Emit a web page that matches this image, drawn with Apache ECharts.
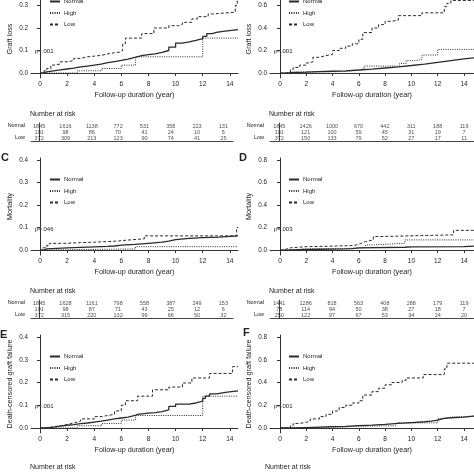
<!DOCTYPE html>
<html><head><meta charset="utf-8">
<script src="https://cdn.jsdelivr.net/npm/echarts@6/dist/echarts.min.js"></script>
<style>html,body{margin:0;padding:0;background:#fff}#c{width:474px;height:474px}</style>
</head><body><div id="c"></div>
<script>
// ---------- DATA ----------
const groups = ['Normal', 'High', 'Low'];
const xTicks = [0, 2, 4, 6, 8, 10, 12, 14];
const riskTimes = [0, 2, 4, 6, 8, 10, 12, 14];
const yTicksSmall = [0, 0.1, 0.2, 0.3, 0.4];
const yTicksLarge = [0, 0.2, 0.4, 0.6, 0.8];

// A: graft loss (left)
const aNormal = [[0,0],[0.2,0.005],[0.5,0.01],[1,0.014],[1.5,0.018],[2,0.022],[2.5,0.027],[3,0.031],[3.5,0.035],[4,0.04],[4.5,0.046],[5,0.051],[5.5,0.056],[6,0.062],[6.5,0.07],[7,0.077],[7.5,0.082],[8,0.085],[8.5,0.092],[9,0.1],[9.5,0.115],[10,0.133],[10.5,0.138],[11,0.145],[11.5,0.153],[12,0.163],[12.3,0.175],[12.7,0.18],[13,0.185],[13.5,0.193],[14.6,0.193]];
const aHigh = [[0,0],[2.75,0.01],[4.55,0.02],[6.0,0.035],[7.05,0.072],[12.0,0.155],[14.6,0.155]];
const aLow = [[0,0],[0.3,0.01],[0.5,0.02],[0.8,0.035],[1,0.04],[1.5,0.05],[2,0.055],[2.5,0.065],[3,0.072],[3.5,0.075],[4,0.078],[4.5,0.085],[5,0.09],[5.5,0.093],[5.9,0.1],[6.1,0.13],[6.3,0.155],[7.5,0.175],[8.4,0.2],[9.5,0.21],[10.2,0.215],[10.5,0.225],[11.2,0.24],[11.6,0.25],[12.4,0.262],[12.7,0.27],[14.4,0.3],[14.55,0.33],[14.6,0.33]];

// B: graft loss (right)
const bNormal = [[0,0],[0.5,0.005],[1,0.008],[2,0.012],[3,0.016],[4,0.02],[5,0.027],[6,0.035],[7,0.045],[8,0.055],[9,0.067],[10,0.08],[11,0.095],[12,0.11],[13,0.125],[14,0.135],[14.76,0.14]];
const bHigh = [[0,0],[0.3,0.005],[0.6,0.01],[2,0.013],[4.8,0.025],[6,0.04],[6.4,0.062],[9.1,0.085],[9.6,0.11],[10.2,0.12],[10.8,0.16],[12,0.21],[14.76,0.21]];
const bLow = [[0,0],[0.5,0.01],[0.8,0.03],[1,0.05],[1.5,0.07],[2,0.09],[2.2,0.1],[2.5,0.14],[3,0.155],[3.5,0.165],[4,0.2],[4.5,0.22],[5,0.24],[5.5,0.26],[6,0.3],[6.3,0.36],[7,0.4],[7.5,0.43],[8,0.46],[8.5,0.47],[9,0.51],[10.8,0.535],[12.5,0.59],[12.7,0.62],[13,0.645],[14.76,0.645]];

// C: mortality (left)
const cNormal = [[0,0],[0.3,0.005],[0.5,0.01],[2,0.012],[3,0.014],[4,0.016],[5,0.018],[5.5,0.022],[6,0.025],[7,0.03],[8,0.035],[9,0.04],[9.5,0.046],[10,0.052],[11,0.055],[12,0.057],[13.2,0.06],[13.3,0.063],[14.6,0.063]];
const cHigh = [[0,0],[0.3,0.005],[7.05,0.015],[14.6,0.015]];
const cLow = [[0,0],[0.2,0.01],[0.5,0.02],[0.7,0.03],[2,0.033],[3,0.035],[4,0.04],[5.8,0.042],[6,0.05],[7.7,0.063],[14.5,0.1],[14.6,0.1]];

// D: mortality (right)
const dNormal = [[0,0],[0.5,0.005],[2,0.01],[5,0.012],[5.5,0.02],[6,0.025],[9.5,0.028],[10,0.03],[14,0.035],[14.76,0.035]];
const dHigh = [[0,0],[0.5,0.01],[2,0.015],[5.5,0.02],[6.5,0.045],[7,0.06],[9.5,0.09],[14.76,0.09]];
const dLow = [[0,0],[0.3,0.01],[0.5,0.02],[0.8,0.03],[2,0.035],[4,0.04],[5.5,0.045],[5.8,0.06],[6.2,0.075],[6.5,0.09],[7.1,0.12],[7.6,0.135],[13.2,0.175],[14.76,0.175]];

// E: death-censored graft failure (left)
const eNormal = [[0,0],[0.5,0.004],[1,0.008],[1.5,0.012],[2,0.015],[2.5,0.019],[3,0.022],[3.5,0.026],[4,0.03],[4.5,0.035],[5,0.04],[5.5,0.044],[6,0.048],[6.5,0.055],[7,0.06],[7.2,0.065],[8,0.068],[8.5,0.072],[9,0.08],[9.5,0.095],[10,0.105],[11,0.11],[11.5,0.118],[12,0.13],[12.2,0.14],[12.5,0.15],[13,0.158],[13.8,0.163],[14.6,0.163]];
const eHigh = [[0,0],[2.75,0.01],[4.55,0.02],[6.0,0.035],[7.05,0.055],[12,0.14],[14.6,0.14]];
const eLow = [[0,0],[0.5,0.005],[1,0.01],[1.5,0.015],[2,0.022],[2.5,0.03],[3,0.04],[4,0.05],[4.5,0.055],[5,0.06],[5.5,0.075],[6,0.1],[6.3,0.12],[7.2,0.14],[8.3,0.168],[9.5,0.18],[10.5,0.198],[11.2,0.22],[12.5,0.24],[14.2,0.27],[14.6,0.27]];

// F: death-censored graft failure (right)
const fNormal = [[0,0],[1,0.004],[2,0.008],[3,0.012],[4,0.015],[5,0.02],[6,0.025],[7,0.032],[8,0.04],[9,0.048],[10,0.055],[11,0.06],[11.5,0.07],[12,0.085],[12.5,0.09],[13,0.095],[14,0.105],[14.76,0.11]];
const fHigh = [[0,0],[0.8,0.008],[4.7,0.015],[5.8,0.02],[8.8,0.045],[12,0.085],[12.5,0.095],[13,0.1],[14,0.105],[14.76,0.11]];
const fLow = [[0,0],[0.8,0.02],[1,0.04],[1.5,0.05],[2,0.06],[2.3,0.08],[3,0.1],[3.5,0.12],[4,0.15],[4.5,0.18],[5,0.2],[5.5,0.22],[6,0.24],[6.3,0.29],[7,0.32],[7.5,0.35],[8,0.38],[8.5,0.4],[9.3,0.42],[9.6,0.44],[10.9,0.47],[12.5,0.52],[12.7,0.57],[14.76,0.57]];

// Number at risk tables
const riskA = { Normal: [1845,1616,1138,772,531,358,223,131], High: [101,98,86,70,41,24,10,5], Low: [372,309,213,123,90,74,41,25] };
const riskB = { Normal: [1845,1426,1000,670,442,311,188,119], High: [101,121,100,59,45,31,19,7], Low: [372,150,133,79,52,27,17,11] };
const riskC = { Normal: [1845,1628,1161,798,558,387,249,153], High: [101,98,87,71,43,25,12,6], Low: [372,315,220,132,99,66,50,32] };
const riskD = { Normal: [1441,1286,818,563,408,288,179,119], High: [78,114,94,50,38,27,18,7], Low: [250,122,97,67,53,34,24,20] };

// ---------- STYLE / LAYOUT ----------
const FONT = '"Liberation Sans", Arial, sans-serif';
const INK = '#222';
const lineStyles = {
  Normal: { type: 'solid', width: 1.3 },
  High: { type: [1, 1.3], width: 1 },
  Low: { type: [3, 2], width: 1 }
};

const L = { left: 31, width: 207, xmin: -0.66, xmax: 14.6 };
const R = { left: 270, width: 204, xmin: -0.76, xmax: 14.76 };

const panels = [
  { side: L, top: 0, height: 78, ymin: -0.022, ymax: 0.324, ticks: yTicksSmall, name: 'Graft loss', data: [aNormal, aHigh, aLow], p: 'p<.001', legendTop: -6.5, pTop: 48 },
  { side: R, top: 0, height: 78, ymin: -0.044, ymax: 0.649, ticks: yTicksLarge, name: 'Graft loss', data: [bNormal, bHigh, bLow], p: 'p<.001', legendTop: -6.5, pTop: 48 },
  { side: L, top: 158, height: 97, ymin: -0.022, ymax: 0.409, ticks: yTicksSmall, name: 'Mortality', data: [cNormal, cHigh, cLow], p: 'p=.046', legendTop: 171.5, pTop: 226, letter: 'C', lx: 1, ly: 152 },
  { side: R, top: 158, height: 97, ymin: -0.044, ymax: 0.818, ticks: yTicksLarge, name: 'Mortality', data: [dNormal, dHigh, dLow], p: 'p=.003', legendTop: 171.5, pTop: 226, letter: 'D', lx: 239, ly: 152 },
  { side: L, top: 335, height: 98, ymin: -0.022, ymax: 0.409, ticks: yTicksSmall, name: 'Death-censored graft failure', data: [eNormal, eHigh, eLow], p: 'p<.001', legendTop: 348.5, pTop: 403, letter: 'E', lx: 0, ly: 329 },
  { side: R, top: 335, height: 98, ymin: -0.044, ymax: 0.818, ticks: yTicksLarge, name: 'Death-censored graft failure', data: [fNormal, fHigh, fLow], p: 'p<.001', legendTop: 348.5, pTop: 403, letter: 'F', lx: 243, ly: 327 }
];

const tables = [
  { risk: riskA, left: 31, width: 202, top: 123, xmin: -0.62, xmax: 14.73, labelTop: 111 },
  { risk: riskB, left: 270, width: 204, top: 123, xmin: -0.7, xmax: 14.75, labelTop: 111 },
  { risk: riskC, left: 31, width: 202, top: 300, xmin: -0.62, xmax: 14.73, labelTop: 288 },
  { risk: riskD, left: 270, width: 204, top: 300, xmin: -0.7, xmax: 14.75, labelTop: 288 }
];

const option = {
  animation: false,
  backgroundColor: '#fff',
  textStyle: { fontFamily: FONT, color: INK },
  grid: [], xAxis: [], yAxis: [], series: [], legend: [], graphic: []
};

const txt = (x, y, s, size, weight) => ({
  type: 'text', left: x, top: y, silent: true,
  style: { text: s, fontSize: size, fontFamily: FONT, fontWeight: weight || 'normal', fill: INK }
});

panels.forEach((p, i) => {
  option.grid.push({ left: p.side.left, top: p.top, width: p.side.width, height: p.height });
  option.xAxis.push({
    type: 'value', gridIndex: i, min: p.side.xmin, max: p.side.xmax,
    name: 'Follow-up duration (year)', nameLocation: 'middle', nameGap: 14,
    nameTextStyle: { fontSize: 7.2, color: INK, fontFamily: FONT },
    axisLine: { show: true, lineStyle: { color: '#333', width: 1 } },
    axisTick: { show: true, length: 3, customValues: xTicks, lineStyle: { color: '#333' } },
    axisLabel: { customValues: xTicks, fontSize: 6.5, color: INK, margin: 3, fontFamily: FONT },
    splitLine: { show: false }
  });
  option.yAxis.push({
    type: 'value', gridIndex: i, min: p.ymin, max: p.ymax,
    name: p.name, nameLocation: 'middle', nameGap: 17,
    nameTextStyle: { fontSize: 7.2, color: INK, fontFamily: FONT },
    axisLine: { show: true, lineStyle: { color: '#333', width: 1 } },
    axisTick: { show: true, length: 3, customValues: p.ticks, lineStyle: { color: '#333' } },
    axisLabel: { customValues: p.ticks, fontSize: 6.3, color: INK, margin: 3, fontFamily: FONT, formatter: v => v.toFixed(1) },
    splitLine: { show: false }
  });
  groups.forEach((g, k) => {
    option.series.push({
      type: 'line', name: g, xAxisIndex: i, yAxisIndex: i, data: p.data[k],
      step: 'end', showSymbol: false, symbol: 'none', clip: true,
      lineStyle: Object.assign({ color: '#2a2a2a' }, lineStyles[g]),
      itemStyle: { color: '#2a2a2a' }, z: 3 - k
    });
  });
  option.legend.push({
    data: groups, orient: 'vertical', left: p.side.left + 13, top: p.legendTop,
    itemWidth: 10, itemHeight: 6, itemGap: 5.5, selectedMode: false,
    itemStyle: { opacity: 0, borderWidth: 0 },
    textStyle: { fontSize: 6, color: INK, fontFamily: FONT, padding: [0, 0, 0, -1] }
  });
  option.graphic.push(txt(p.side.left + 4, p.pTop, p.p, 6));
  if (p.letter) option.graphic.push(txt(p.lx, p.ly, p.letter, 11, 'bold'));
});

tables.forEach((t, j) => {
  const gi = panels.length + j;
  option.grid.push({ left: t.left, top: t.top, width: t.width, height: 18 });
  option.xAxis.push({
    type: 'value', gridIndex: gi, min: t.xmin, max: t.xmax,
    axisLine: { show: true, lineStyle: { color: '#444' } }, axisTick: { show: false },
    axisLabel: { show: false }, splitLine: { show: false }
  });
  option.yAxis.push({
    type: 'category', gridIndex: gi, data: ['Low', 'High', 'Normal'],
    axisLine: { show: true, lineStyle: { color: '#444' } }, axisTick: { show: false },
    axisLabel: { fontSize: 5.4, color: INK, margin: 6, fontFamily: FONT }, splitLine: { show: false }
  });
  const pts = [];
  groups.forEach(g => t.risk[g].forEach((v, m) => pts.push([riskTimes[m], g, v])));
  option.series.push({
    type: 'scatter', name: 'risk' + j, xAxisIndex: gi, yAxisIndex: gi, data: pts,
    symbolSize: 1, itemStyle: { color: 'rgba(0,0,0,0)' }, silent: true,
    label: { show: true, position: 'inside', formatter: q => q.value[2], fontSize: 5.5, color: INK, fontFamily: FONT }
  });
  option.graphic.push(txt(t.left - 1, t.labelTop, 'Number at risk', 7));
});
// tables for E and F are cropped in the figure: only their headings remain
option.graphic.push(txt(30, 464, 'Number at risk', 7));
option.graphic.push(txt(265, 464, 'Number at risk', 7));

const chart = echarts.init(document.getElementById('c'), null, { renderer: 'canvas' });
chart.setOption(option);
</script>
</body></html>
